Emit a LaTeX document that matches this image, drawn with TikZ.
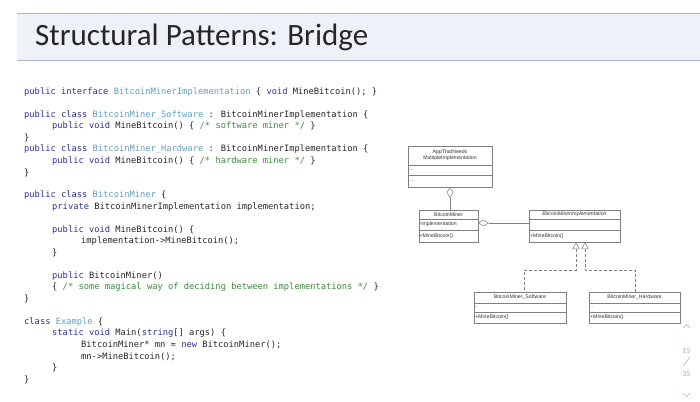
\documentclass[tikz,border=0pt]{standalone}
\usepackage{fontspec}
\setmainfont{Liberation Sans}
\newfontfamily\titlef{Carlito}
\newfontfamily\codef{DejaVu Sans Mono}
\usetikzlibrary{arrows.meta}
\definecolor{kw}{HTML}{2E3192}
\definecolor{cn}{HTML}{5FA0C0}
\definecolor{cm}{HTML}{3C8A3C}
\definecolor{bar}{HTML}{EEF2F8}
\definecolor{barl}{HTML}{A9B7CF}
\definecolor{uml}{HTML}{808080}
\definecolor{pg}{HTML}{9FB3C8}
\newcommand{\kw}[1]{\textcolor{kw}{#1}}
\newcommand{\cn}[1]{\textcolor{cn}{#1}}
\newcommand{\cm}[1]{\textcolor{cm}{#1}}
\begin{document}
\begin{tikzpicture}[x=1pt,y=-1pt,
 code/.style={anchor=west,inner sep=0pt,text=black!85,font=\codef\fontsize{8.75}{10}\selectfont},
 cls/.style={draw=uml,line width=0.5pt},
 ut/.style={inner sep=0pt,font=\fontsize{5.2}{5.8}\selectfont,text=black!80},
 ui/.style={ut,anchor=west}]
\useasboundingbox (0,0) rectangle (700,401);
\fill[white] (0,0) rectangle (700,401);
\fill[bar] (17,13) rectangle (700,60);
\draw[barl,line width=0.8pt] (17,13) -- (700,13) (17,60) -- (700,60);
\node[anchor=west,inner sep=0pt,font=\titlef\fontsize{31}{33}\selectfont,text=black!85] (title) at (35,37) {Structural Patterns: Bridge};
% code
\node[code] (l0) at (24,92) {\kw{public interface} \cn{BitcoinMinerImplementation} \{ \kw{void} MineBitcoin(); \}};
\node[code] (l2) at (24,115) {\kw{public class} \cn{BitcoinMiner\_Software} : BitcoinMinerImplementation \{};
\node[code] (l3) at (52,126.5) {\kw{public void} MineBitcoin() \{ \cm{/* software miner */} \}};
\node[code] (l4) at (24,138) {\}};
\node[code] (l5) at (24,149.5) {\kw{public class} \cn{BitcoinMiner\_Hardware} : BitcoinMinerImplementation \{};
\node[code] (l6) at (52,161) {\kw{public void} MineBitcoin() \{ \cm{/* hardware miner */} \}};
\node[code] (l7) at (24,172.5) {\}};
\node[code] (l9) at (24,195.5) {\kw{public class} \cn{BitcoinMiner} \{};
\node[code] (l10) at (52,207) {\kw{private} BitcoinMinerImplementation implementation;};
\node[code] (l12) at (52,230) {\kw{public void} MineBitcoin() \{};
\node[code] (l13) at (81,241.5) {implementation->MineBitcoin();};
\node[code] (l14) at (52,253) {\}};
\node[code] (l16) at (52,276) {\kw{public} BitcoinMiner()};
\node[code] (l17) at (52,287.5) {\{ \cm{/* some magical way of deciding between implementations */} \}};
\node[code] (l18) at (24,299) {\}};
\node[code] (l20) at (24,322) {\kw{class} \cn{Example} \{};
\node[code] (l21) at (52,333.5) {\kw{static void} Main(\kw{string}[] args) \{};
\node[code] (l22) at (81,345) {BitcoinMiner* mn = \kw{new} BitcoinMiner();};
\node[code] (l23) at (81,356.5) {mn->MineBitcoin();};
\node[code] (l24) at (52,368) {\}};
\node[code] (l25) at (24,379.5) {\}};
% UML
\draw[cls] (408,146) rectangle (492,187) (408,165) -- (492,165) (408,175) -- (492,175);
\node[ut,align=center] (app) at (450,155.5) {AppThatNeeds\\MultipleImplementation};
\node[ui] (appa) at (409,170) {...};
\node[ui] (appb) at (409,181) {...};
\coordinate (appbot) at (450,187);
\draw[cls] (419,210) rectangle (478,242) (419,219) -- (478,219) (419,230) -- (478,230);
\node[ut] (bm) at (448.5,214.5) {BitcoinMiner};
\node[ui] (bma) at (419.5,224.5) {-implementation};
\node[ui] (bmb) at (419.5,236) {+MineBitcoin()};
\coordinate (bmtop) at (450,210);
\coordinate (bmr) at (478,223);
\draw[cls] (529,210) rectangle (620,242) (529,219) -- (620,219) (529,230) -- (620,230);
\node[ut,font=\fontsize{5.2}{5.8}\selectfont\itshape] (bi) at (574.5,214.5) {BitcoinMinerImplementation};
\node[ui] (bib) at (530,236) {+MineBitcoin()};
\coordinate (bil) at (529,223);
\draw[cls] (474,292) rectangle (566,323) (474,303) -- (566,303) (474,312) -- (566,312);
\node[ut] (sw) at (520,297.5) {BitcoinMiner\_Software};
\node[ui] (swa) at (475,307) {..};
\node[ui] (swb) at (475,317.5) {+MineBitcoin()};
\draw[cls] (589,292) rectangle (680,323) (589,303) -- (680,303) (589,312) -- (680,312);
\node[ut] (hw) at (634.5,297.5) {BitcoinMiner\_Hardware};
\node[ui] (hwa) at (590,307) {..};
\node[ui] (hwb) at (590,317.5) {+MineBitcoin()};
\coordinate (t1) at (576,242);
\coordinate (t2) at (585,242);
\draw[uml,line width=0.5pt,{Diamond[open,fill=white,length=11pt,width=6.5pt]}-] (appbot) -- (bmtop);
\draw[uml,line width=0.5pt,{Diamond[open,fill=white,length=11pt,width=6.5pt]}-] (bmr) -- (bil);
\draw[uml,line width=0.5pt,dashed,dash pattern=on 3pt off 2pt,{Triangle[open,fill=white,length=7pt,width=7pt]}-] (t1) -- (576,270) -- (524,270) -- (524,292);
\draw[uml,line width=0.5pt,dashed,dash pattern=on 3pt off 2pt,{Triangle[open,fill=white,length=7pt,width=7pt]}-] (t2) -- (585,270) -- (635,270) -- (635,292);
% page indicator
\draw[pg,line width=0.6pt] (683,328) -- (686.5,324.5) -- (690,328);
\node[inner sep=0pt,text=pg,font=\titlef\fontsize{8}{9}\selectfont] (p15) at (686.5,351) {15};
\draw[pg,line width=0.5pt] (683,366) -- (690,357);
\node[inner sep=0pt,text=pg,font=\titlef\fontsize{8}{9}\selectfont] (p35) at (686.5,374) {35};
\draw[pg,line width=0.6pt] (683,393) -- (686.5,396.5) -- (690,393);
\end{tikzpicture}
\end{document}
